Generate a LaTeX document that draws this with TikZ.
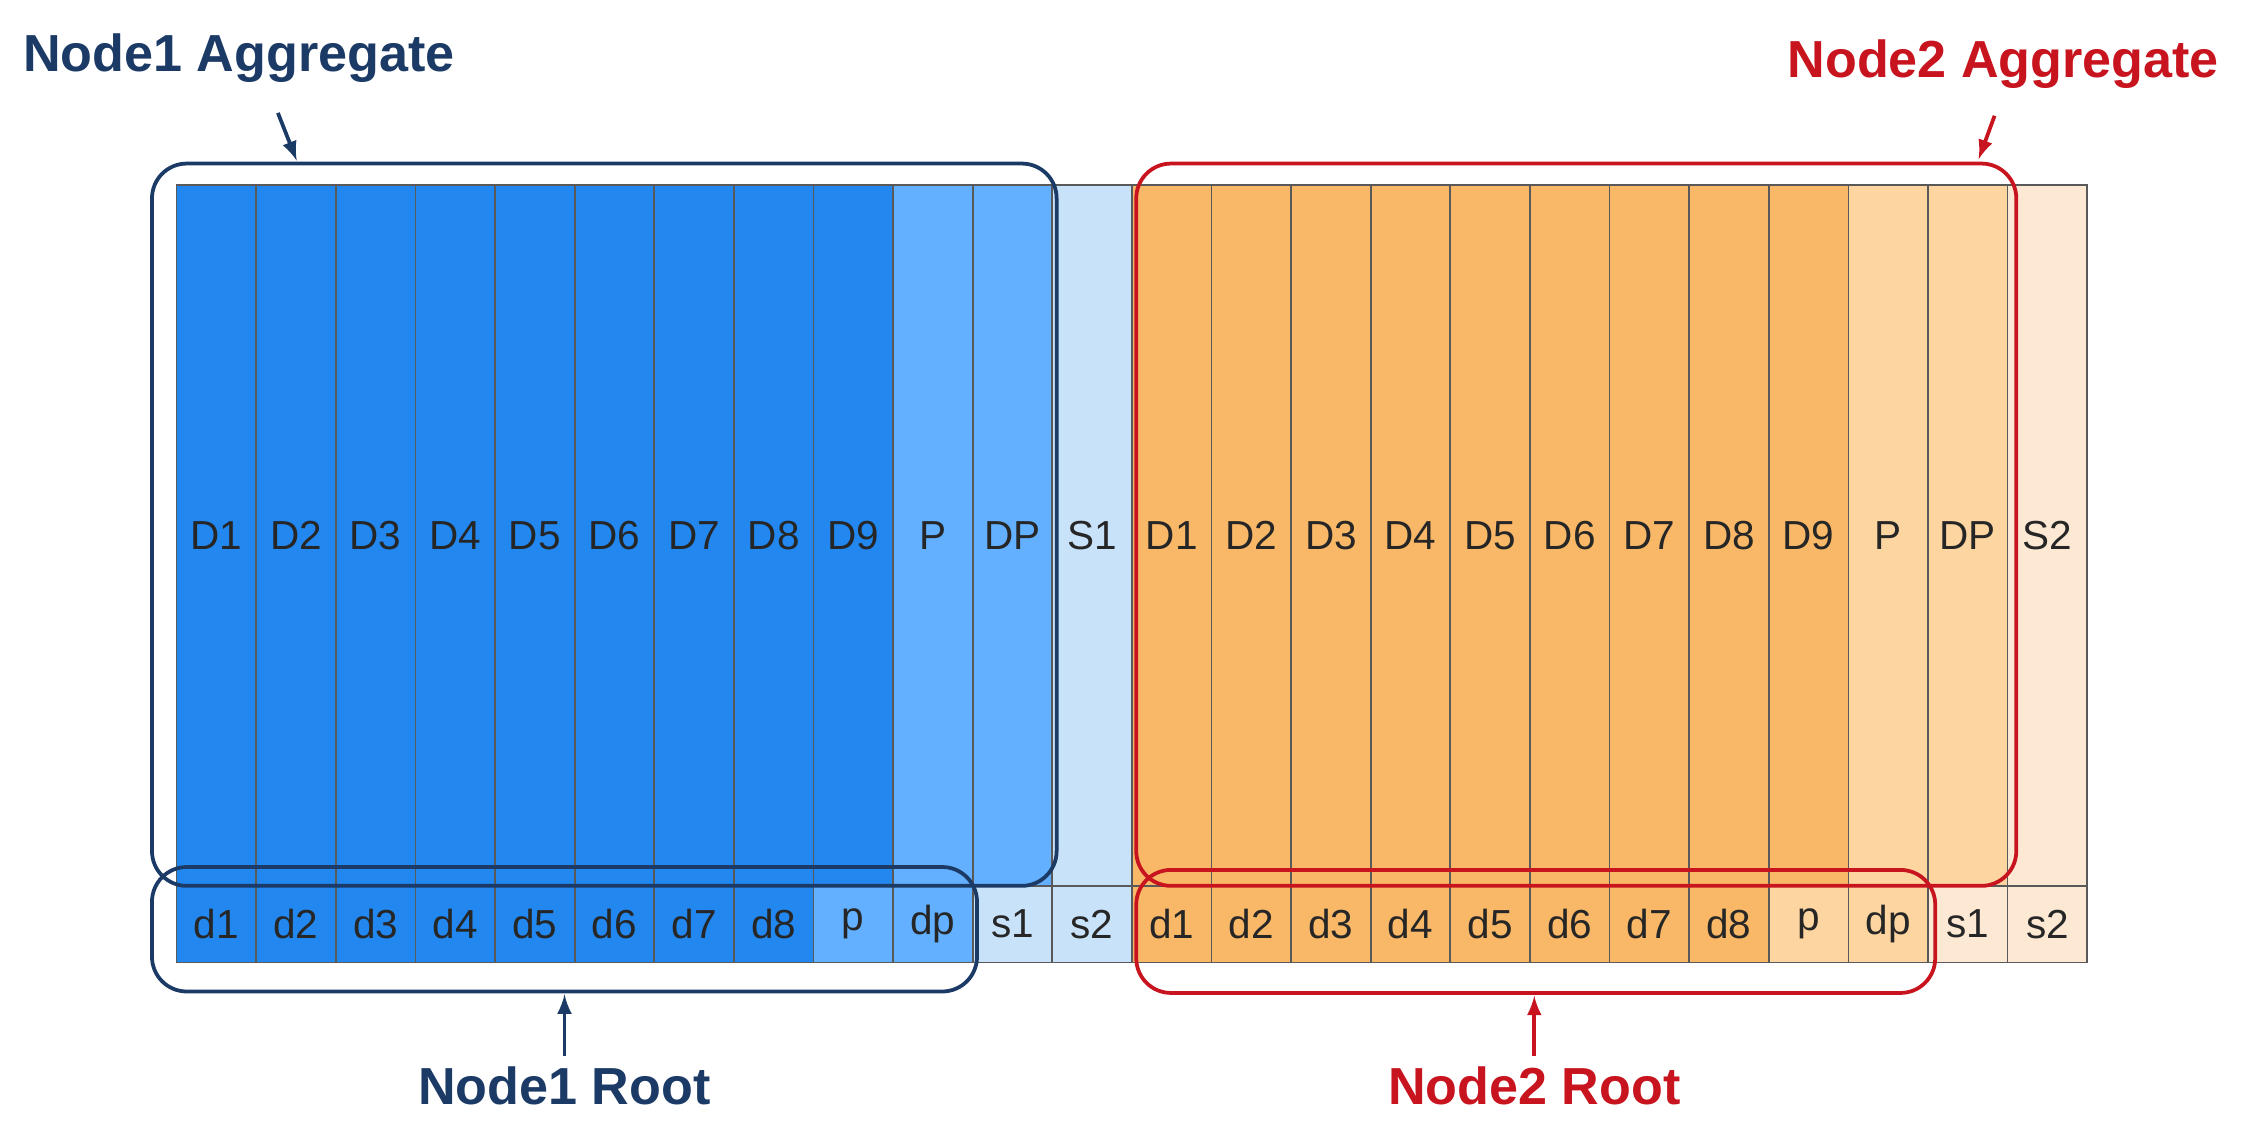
\documentclass[tikz,border=0pt]{standalone}
\usepackage{fontspec}
\setmainfont{Liberation Sans}
\begin{document}
\begin{tikzpicture}[x=0.5pt,y=-0.5pt,
  col/.style={draw=gray!70!black,line width=0.6pt,minimum width=27.5pt,minimum height=242pt,inner sep=0pt,font=\fontsize{14}{14}\selectfont,text=black!85},
  cell/.style={draw=gray!70!black,line width=0.6pt,minimum width=27.5pt,minimum height=26.5pt,inner sep=0pt,font=\fontsize{14}{14}\selectfont,text=black!85},
  grpB/.style={draw=bluedk,line width=1.3pt,rounded corners=12pt},
  grpR/.style={draw=reddk,line width=1.3pt,rounded corners=12pt},
  ttl/.style={font=\bfseries\fontsize{18}{18}\selectfont},
  arr/.style={-latex,line width=1.3pt}]
\definecolor{bluedk}{HTML}{1B3A66}
\definecolor{reddk}{HTML}{C8141E}
\definecolor{bA}{HTML}{2288F0}
\definecolor{bP}{HTML}{62B0FF}
\definecolor{bS}{HTML}{C8E2FA}
\definecolor{oA}{HTML}{F9B867}
\definecolor{oP}{HTML}{FCD5A0}
\definecolor{oS}{HTML}{FDE9D3}
\useasboundingbox (0,0) rectangle (1560,793);
% top columns
\foreach \i/\t/\c in {1/D1/bA,2/D2/bA,3/D3/bA,4/D4/bA,5/D5/bA,6/D6/bA,7/D7/bA,8/D8/bA,9/D9/bA,10/P/bP,11/DP/bP,12/S1/bS,
  13/D1/oA,14/D2/oA,15/D3/oA,16/D4/oA,17/D5/oA,18/D6/oA,19/D7/oA,20/D8/oA,21/D9/oA,22/P/oP,23/DP/oP,24/S2/oS}
  \node[col,fill=\c] (T\i) at ({122+55*(\i-0.5)},370) {\t};
\foreach \i/\t/\c in {1/d1/bA,2/d2/bA,3/d3/bA,4/d4/bA,5/d5/bA,6/d6/bA,7/d7/bA,8/d8/bA,9/p/bP,10/dp/bP,11/s1/bS,12/s2/bS,
  13/d1/oA,14/d2/oA,15/d3/oA,16/d4/oA,17/d5/oA,18/d6/oA,19/d7/oA,20/d8/oA,21/p/oP,22/dp/oP,23/s1/oS,24/s2/oS}
  \node[cell,fill=\c] (B\i) at ({122+55*(\i-0.5)},638.5) {\t};
% group outlines
\draw[grpB] (105,113) rectangle (730,612);
\draw[grpB] (105,599) rectangle (675,685);
\draw[grpR] (785,113) rectangle (1393,612);
\draw[grpR] (785,601) rectangle (1337,686);
\coordinate (n1a) at (205,111);
\coordinate (n2a) at (1367,110);
\coordinate (n1r) at (390,687);
\coordinate (n2r) at (1060,688);
% titles
\node[ttl,text=bluedk] (L1) at (165,40) {Node1 Aggregate};
\node[ttl,text=reddk] (L2) at (1384,44) {Node2 Aggregate};
\node[ttl,text=bluedk] (L3) at (390,750) {Node1 Root};
\node[ttl,text=reddk] (L4) at (1060,750) {Node2 Root};
\draw[arr,bluedk] (192,78) -- (n1a);
\draw[arr,reddk] (1378,80) -- (n2a);
\draw[arr,bluedk] (L3.north) -- (n1r);
\draw[arr,reddk] (L4.north) -- (n2r);
\end{tikzpicture}
\end{document}
